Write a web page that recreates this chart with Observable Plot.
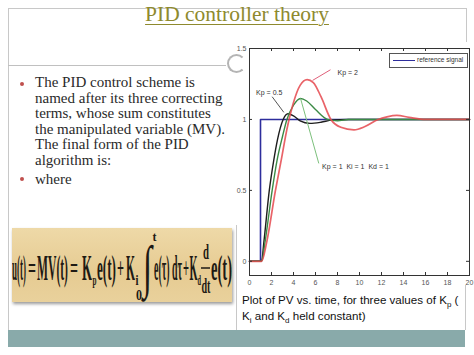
<!DOCTYPE html>
<html><head><meta charset="utf-8">
<script src="https://cdn.jsdelivr.net/npm/d3@7"></script>
<script src="https://cdn.jsdelivr.net/npm/@observablehq/plot@0.6"></script>
<style>
body{margin:0;background:#fff;}
#slide{position:relative;width:474px;height:355px;overflow:hidden;background:#fff;font-family:"Liberation Serif","DejaVu Serif",serif;}
.a{position:absolute;}
.line{position:absolute;left:35px;font-size:15px;color:#2a2a2a;white-space:nowrap;line-height:16px;}
.dot{position:absolute;left:20px;width:4px;height:4px;border-radius:50%;background:#c0504d;}
.cap{position:absolute;left:242px;font-family:"Liberation Sans",Arial,sans-serif;font-size:11.6px;color:#111;white-space:nowrap;line-height:14px;}
.cap sub{font-size:8px;vertical-align:-3px;line-height:0;}
</style></head><body><div id="slide">
<div class="a" style="left:8px;top:8px;width:458px;border-top:1px solid #c8c8c8"></div>
<div class="a" style="left:8px;top:8px;height:322px;border-left:1px solid #c8c8c8"></div>
<div class="a" style="left:466px;top:8px;height:34px;border-left:1px solid #c8c8c8"></div>
<div class="a" style="left:8px;top:65px;width:218px;border-top:1px solid #c0c0c0"></div>
<div class="a" style="left:227px;top:54px;width:15px;height:15px;border:2px solid #b4b4b4;border-right-color:transparent;border-radius:50%"></div>
<div id="title" class="a" style="left:0;top:2px;width:474px;text-align:center;font-size:21.5px;color:#8e8a2e;text-decoration:underline;text-decoration-thickness:1px;text-underline-offset:3px"></div>
<div class="dot" style="top:82px"></div>
<div class="dot" style="top:177px"></div>
<div id="body"></div>
<div class="a" style="left:12px;top:228px;width:220px;height:74px;background:linear-gradient(180deg,#eed9a8,#e6cb92 60%,#e9d19c);box-shadow:1px 2px 3px #9a9a9a;overflow:hidden">
<svg id="formula" width="220" height="74" style="position:absolute;left:0;top:0"></svg>
</div>
<div class="a" style="left:236px;top:225px;height:105px;border-left:1px solid #c8c8c8"></div>
<div class="a" style="left:465px;top:285px;height:45px;border-left:1px solid #c8c8c8"></div>
<div id="plot" class="a" style="left:230px;top:38px"></div>
<div id="legend" class="a" style="left:389px;top:53px;width:77px;height:13px;border:1px solid #555;background:#fff;font-family:'Liberation Sans',Arial,sans-serif;font-size:6.5px;color:#333;white-space:nowrap">
<div class="a" style="left:3px;top:6px;width:22px;border-top:1.6px solid #2d2d9c"></div>
<div id="legtext" class="a" style="left:27px;top:2px;line-height:8px"></div>
</div>
<div id="cap1" class="cap" style="top:293px"></div>
<div id="cap2" class="cap" style="top:309px"></div>
<div class="a" style="left:8px;top:330px;width:457px;height:17px;background:#89aaaa"></div>
</div>
<script>
// ---- text content ----
const titleText = "PID controller theory";
const bulletLines = ["The PID control scheme is", "named after its three correcting", "terms, whose sum constitutes", "the manipulated variable (MV).", "The final form of the PID", "algorithm is:"];
const bullet2 = "where";
const legendLabel = "reference signal";
const captionLine1 = ["Plot of PV vs. time, for three values of K", "p", " ("];
const captionLine2 = ["K", "i", " and  K", "d", " held constant)"];

// ---- chart data ----
const xTicks = [0, 2, 4, 6, 8, 10, 12, 14, 16, 18, 20];
const yTicks = [0, 0.5, 1, 1.5];
const refT = [0, 1, 1, 20];
const refV = [0, 0, 1, 1];
const kp05T = [0, 1.1, 1.3, 1.8, 2.2, 2.55, 3.06, 3.5, 4.0, 4.6, 5.5, 6.5, 7.5, 9, 20];
const kp05V = [0, 0, 0.13, 0.5, 0.71, 0.86, 1.0, 1.04, 1.025, 0.99, 0.972, 0.98, 0.995, 1.0, 1.0];
const kp1T = [0, 1.1, 1.4, 2.06, 2.5, 3.0, 3.4, 4.0, 4.64, 5.2, 6.0, 7.1, 8.0, 9, 20];
const kp1V = [0, 0, 0.13, 0.5, 0.71, 0.88, 1.0, 1.1, 1.148, 1.13, 1.07, 1.0, 0.99, 1.0, 1.0];
const kp2T = [0, 1.1, 1.55, 2.36, 2.9, 3.4, 4.0, 4.6, 5.24, 5.8, 6.5, 7.4, 8.3, 9.5, 10.5, 11.7, 12.5, 13.4, 14.5, 16, 20];
const kp2V = [0, 0, 0.13, 0.5, 0.72, 0.93, 1.12, 1.24, 1.28, 1.26, 1.16, 1.0, 0.945, 0.927, 0.95, 1.0, 1.018, 1.028, 1.015, 1.0, 1.0];
const annLabels = ["Kp = 2", "Kp = 0.5", "Kp = 1  Ki = 1  Kd = 1"];
const annTextT = [8.0, 0.6, 6.6];
const annTextV = [1.33, 1.19, 0.67];
const annFromT = [7.36, 2.06, 4.64];
const annFromV = [1.35, 1.16, 1.148];
const annToT = [5.73, 3.12, 6.3];
const annToV = [1.275, 1.05, 0.69];
const annColors = ["#e0607a", "#555555", "#7cc07c"];

// ---- build page text ----
document.getElementById("title").textContent = titleText;
const body = document.getElementById("body");
bulletLines.forEach((s, i) => {
  const d = document.createElement("div"); d.className = "line";
  d.style.top = (74 + i * 15.5) + "px"; d.textContent = s; body.appendChild(d);
});
{ const d = document.createElement("div"); d.className = "line"; d.style.top = "171px"; d.textContent = bullet2; body.appendChild(d); }
document.getElementById("legtext").textContent = legendLabel;
function capFill(id, parts) {
  const el = document.getElementById(id);
  parts.forEach((p, i) => {
    if (i % 2 === 1) { const s = document.createElement("sub"); s.textContent = p; el.appendChild(s); }
    else el.appendChild(document.createTextNode(p));
  });
}
capFill("cap1", captionLine1);
capFill("cap2", captionLine2);

// ---- formula ----
const fsvg = d3.select("#formula");
const F = "Liberation Serif, serif";
const pieces = [
  {t: "u(t)", x: 0, y: 52, len: 14, fs: 36},
  {t: "=", x: 16, y: 50, len: 8, fs: 30},
  {t: "MV(t)", x: 25, y: 52, len: 31, fs: 36},
  {t: "=", x: 58, y: 50, len: 8, fs: 30},
  {t: "K", x: 70, y: 52, len: 10, fs: 36},
  {t: "p", x: 80.5, y: 57, len: 4, fs: 14},
  {t: "e(t)", x: 85, y: 52, len: 19, fs: 36},
  {t: "+", x: 105, y: 50, len: 7, fs: 30},
  {t: "K", x: 114, y: 52, len: 9, fs: 36},
  {t: "i", x: 123.5, y: 57, len: 3, fs: 14},
  {t: "\u222B", x: 131, y: 58, len: 9, fs: 58, w: "normal"},
  {t: "t", x: 140.5, y: 13, len: 4, fs: 12},
  {t: "0", x: 124, y: 72, len: 6, fs: 14},
  {t: "e(\u03C4) d\u03C4", x: 142, y: 52, len: 28, fs: 36},
  {t: "+", x: 171, y: 50, len: 6, fs: 30},
  {t: "K", x: 177.5, y: 52, len: 8, fs: 36},
  {t: "d", x: 185.5, y: 57, len: 3.5, fs: 14},
  {t: "d", x: 191, y: 31, len: 6, fs: 22},
  {t: "dt", x: 189.5, y: 65, len: 9, fs: 22},
  {t: "e(t)", x: 199, y: 52, len: 21, fs: 36}
];
pieces.forEach(p => {
  const t = fsvg.append("text").attr("font-family", F).attr("font-weight", p.w || "bold")
    .attr("font-size", p.fs).attr("fill", "#1e1a14").text(p.t);
  const nat = t.node().getComputedTextLength() || p.len;
  t.attr("transform", `translate(${p.x},${p.y}) scale(${p.len / nat},1)`);
});
fsvg.append("line").attr("x1", 189).attr("x2", 198).attr("y1", 40).attr("y2", 40).attr("stroke", "#1e1a14").attr("stroke-width", 1.5);

// ---- chart ----
const toRows = (T, V) => T.map((t, i) => ({t, v: V[i]}));
const ref = toRows(refT, refV), s05 = toRows(kp05T, kp05V), s1 = toRows(kp1T, kp1V), s2 = toRows(kp2T, kp2V);
const ann = annLabels.map((label, i) => ({label, tx: annTextT[i], ty: annTextV[i], x1: annFromT[i], y1: annFromV[i], x2: annToT[i], y2: annToV[i], c: annColors[i]}));
const W = 244, H = 252, ML = 19, MT = 10, MR = 5, MB = 15;
const FW = W - ML - MR, FH = H - MT - MB;
const chart = Plot.plot({
  width: W, height: H, marginLeft: ML, marginTop: MT, marginRight: MR, marginBottom: MB,
  style: {background: "transparent", fontFamily: "Liberation Sans, Arial, sans-serif", fontSize: "7px", color: "#555", overflow: "visible"},
  x: {domain: [0, 20]},
  y: {domain: [-0.1, 1.5]},
  marks: [
    Plot.line(ref, {x: "t", y: "v", stroke: "#2d2d9c", strokeWidth: 1.6}),
    Plot.line(s05, {x: "t", y: "v", stroke: "#1e1e1e", strokeWidth: 1.4, curve: "monotone-x"}),
    Plot.line(s1, {x: "t", y: "v", stroke: "#3b8a45", strokeWidth: 1.4, curve: "monotone-x"}),
    Plot.line(s2, {x: "t", y: "v", stroke: "#e5484d", strokeWidth: 1.7, strokeOpacity: 0.85, curve: "monotone-x"}),
    Plot.link(ann, {x1: "x1", y1: "y1", x2: "x2", y2: "y2", stroke: "c", strokeWidth: 1}),
    Plot.text(ann, {x: "tx", y: "ty", text: "label", textAnchor: "start", fill: "#333", fontSize: 7}),
    Plot.frame({stroke: "#333"}),
    Plot.tickX(xTicks, {x: d => d, insetTop: FH - 3, stroke: "#333"}),
    Plot.tickX(xTicks, {x: d => d, insetBottom: FH - 3, stroke: "#333"}),
    Plot.tickY(yTicks, {y: d => d, insetRight: FW - 3, stroke: "#333"}),
    Plot.tickY(yTicks, {y: d => d, insetLeft: FW - 3, stroke: "#333"}),
    Plot.axisX({ticks: xTicks, tickSize: 0, tickPadding: 5, tickFormat: d => String(d), label: null}),
    Plot.axisY({ticks: yTicks, tickSize: 0, tickPadding: 3, tickFormat: d => String(d), label: null})
  ]
});
document.getElementById("plot").appendChild(chart);
</script></body></html>
